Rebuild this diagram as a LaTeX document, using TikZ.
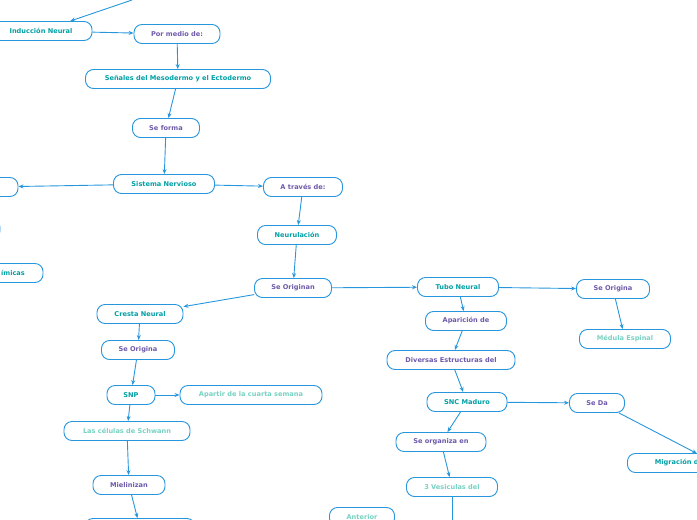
\documentclass[tikz,border=0pt]{standalone}
\usepackage{fontspec}
\setmainfont{DejaVu Sans}
\usetikzlibrary{arrows.meta}
\definecolor{edgeblue}{RGB}{40,150,220}
\definecolor{mainteal}{RGB}{0,160,165}
\definecolor{linkpurple}{RGB}{110,90,170}
\definecolor{leafteal}{RGB}{120,210,195}
\tikzset{
  box/.style={draw=edgeblue, line width=0.9pt, rounded corners=8pt, fill=white,
    minimum height=19pt, inner sep=1pt, font=\fontsize{6.6}{7.5}\selectfont\bfseries},
  mainbox/.style={box, text=mainteal},
  linkbox/.style={box, text=linkpurple},
  leafbox/.style={box, text=leafteal},
  arr/.style={-{Stealth[length=5pt,width=4pt]}, draw=edgeblue, line width=0.9pt}
}
\begin{document}
\begin{tikzpicture}[x=1pt, y=-1pt]
        \useasboundingbox (0,0) rectangle (697,520);
        \clip (0,0) rectangle (697,520);
        % NODES
        % top branch
        \coordinate (top) at (132,0);
        \node[mainbox, minimum width=102pt] (induccion) at (41,31) {Inducción Neural};
        \node[linkbox, minimum width=86pt] (medio) at (177,34) {Por medio de:};
        \node[mainbox, minimum width=185pt] (senales) at (178,79) {Señales del Mesodermo y el Ectodermo};
        \node[linkbox, minimum width=67pt] (forma) at (166,128) {Se forma};
        \node[mainbox, minimum width=101pt] (sistema) at (164,184) {Sistema Nervioso};
        % left, cut off
        \node[linkbox, minimum width=60pt, align=right] (izq) at (-12,187) {\hfill r};
        \node[box, minimum width=40pt] (izqdos) at (-20,229) {};
        \node[mainbox, minimum width=90pt] (quimicas) at (-2,273) {\hspace*{30pt}ímicas};
        % middle
        \node[linkbox, minimum width=79pt] (traves) at (303,187) {A través de:};
        \node[mainbox, minimum width=79pt] (neurulacion) at (297,235) {Neurulación};
        \node[linkbox, minimum width=77pt] (originan) at (293,288) {Se Originan};
        % left column
        \node[mainbox, minimum width=86pt] (cresta) at (140,314) {Cresta Neural};
        \node[linkbox, minimum width=73pt] (origina) at (138,350) {Se Origina};
        \node[mainbox, minimum width=48pt] (snp) at (131,395) {SNP};
        \node[leafbox, minimum width=142pt] (cuarta) at (251,395) {Apartir de la cuarta semana};
        \node[leafbox, minimum width=126pt] (schwann) at (127,431) {Las células de Schwann};
        \node[linkbox, minimum width=72pt] (mielinizan) at (129,485) {Mielinizan};
        \node[leafbox, minimum width=110pt] (abajo) at (140,528) {};
        % right column
        \node[mainbox, minimum width=81pt] (tubo) at (458,287) {Tubo Neural};
        \node[linkbox, minimum width=73pt] (originader) at (613,289) {Se Origina};
        \node[leafbox, minimum width=91pt] (medula) at (625,339) {Médula Espinal};
        \node[linkbox, minimum width=81pt] (aparicion) at (466,321) {Aparición de};
        \node[linkbox, minimum width=128pt] (diversas) at (451,360) {Diversas Estructuras del};
        \node[mainbox, minimum width=80pt] (snc) at (467,402) {SNC Maduro};
        \node[linkbox, minimum width=55pt] (seda) at (597,403) {Se Da};
        \node[mainbox, minimum width=110pt, anchor=west] (migracion) at (627,463) {\hspace*{6pt}Migración de las\hfill};
        \coordinate (migtop) at (697,453.5);
        \node[linkbox, minimum width=90pt] (organiza) at (441,442) {Se organiza en};
        \node[leafbox, minimum width=91pt] (vesiculas) at (452,487) {3 Vesiculas del};
        \node[leafbox, minimum width=65pt] (anterior) at (362,517) {Anterior};
        \coordinate (vesabajo) at (452,530);

        % ARROWS
        \draw[arr] (top) -- (induccion);
        \draw[arr] (induccion) -- (medio);
        \draw[arr] (medio) -- (senales);
        \draw[arr] (senales) -- (forma);
        \draw[arr] (forma) -- (sistema);
        \draw[arr] (sistema) -- (izq);
        \draw[arr] (sistema) -- (traves);
        \draw[arr] (traves) -- (neurulacion);
        \draw[arr] (neurulacion) -- (originan);
        \draw[arr] (originan) -- (cresta);
        \draw[arr] (originan) -- (tubo);
        \draw[arr] (cresta) -- (origina);
        \draw[arr] (origina) -- (snp);
        \draw[arr] (snp) -- (cuarta);
        \draw[arr] (snp) -- (schwann);
        \draw[arr] (schwann) -- (mielinizan);
        \draw[arr] (mielinizan) -- (abajo);
        \draw[arr] (tubo) -- (originader);
        \draw[arr] (originader) -- (medula);
        \draw[arr] (tubo) -- (aparicion);
        \draw[arr] (aparicion) -- (diversas);
        \draw[arr] (diversas) -- (snc);
        \draw[arr] (snc) -- (seda);
        \draw[arr] (seda.south east) ++(-6,0) -- (migtop);
        \draw[arr] (snc) -- (organiza);
        \draw[arr] (organiza) -- (vesiculas);
        \draw[draw=edgeblue, line width=0.9pt] (vesiculas) -- (vesabajo);
\end{tikzpicture}
\end{document}
